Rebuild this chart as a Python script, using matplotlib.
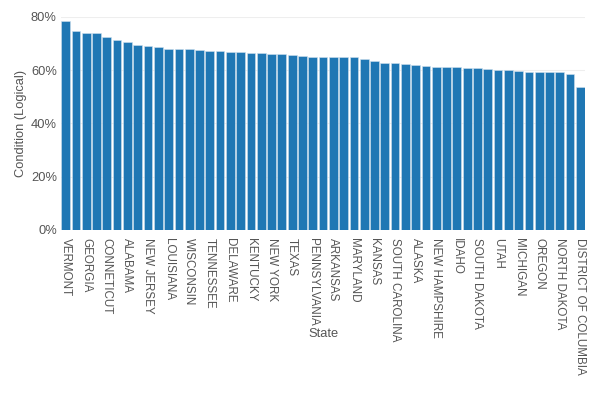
import matplotlib
matplotlib.use("Agg")
import matplotlib.pyplot as plt
from matplotlib.ticker import FuncFormatter

plt.rcParams['font.family'] = ['Liberation Sans', 'DejaVu Sans']

states = [
    "VERMONT", "ARIZONA", "GEORGIA", "CALIFORNIA", "CONNETICUT", "COLORADO",
    "ALABAMA", "FLORIDA", "NEW JERSEY", "HAWAII", "LOUISIANA", "ILLINOIS",
    "WISCONSIN", "INDIANA", "TENNESSEE", "IOWA", "DELAWARE", "MAINE",
    "KENTUCKY", "MASSACHUSETTS", "NEW YORK", "MINNESOTA", "TEXAS", "MISSISSIPPI",
    "PENNSYLVANIA", "MISSOURI", "ARKANSAS", "MONTANA", "MARYLAND", "NEBRASKA",
    "KANSAS", "NEVADA", "SOUTH CAROLINA", "NEW MEXICO", "ALASKA", "NORTH CAROLINA",
    "NEW HAMPSHIRE", "OHIO", "IDAHO", "OKLAHOMA", "SOUTH DAKOTA", "RHODE ISLAND",
    "UTAH", "VIRGINIA", "MICHIGAN", "WASHINGTON", "OREGON", "WEST VIRGINIA",
    "NORTH DAKOTA", "WYOMING", "DISTRICT OF COLUMBIA",
]
condition = [
    78.4, 74.5, 74.1, 73.9, 72.6, 71.4, 70.5, 69.6, 69.0, 68.5,
    68.0, 67.9, 67.9, 67.5, 67.1, 67.1, 66.9, 66.9, 66.6, 66.3,
    65.9, 65.9, 65.6, 65.4, 65.1, 65.1, 65.0, 65.0, 65.0, 64.1,
    63.6, 62.75, 62.5, 62.4, 61.75, 61.5, 61.25, 61.1, 61.1, 60.75,
    60.75, 60.5, 60.1, 60.1, 59.5, 59.4, 59.4, 59.4, 59.25, 58.6,
    53.6,
]
yticks = [0, 20, 40, 60, 80]

fig = plt.figure(figsize=(6, 4), dpi=100)
ax = fig.add_axes([0.1017, 0.425, 0.8733, 0.533])

x = list(range(len(states)))
ax.bar(x, condition, width=0.85, color="#1f77b4", edgecolor="#cfe0ee", linewidth=0.4, zorder=3)

ax.set_xlim(-0.45, len(states) - 0.55)
ax.set_ylim(0, 80)
ax.set_yticks(yticks)
ax.yaxis.set_major_formatter(FuncFormatter(lambda v, p: f"{v:.0f}%"))
ax.grid(axis="y", color="#eeeeee", linewidth=0.8, zorder=0)
for s in ax.spines.values():
    s.set_visible(False)

ax.set_xticks(x[::2])
ax.set_xticklabels(states[::2], rotation=270, fontsize=8.4, color="#555555")
ax.tick_params(axis="x", length=0, pad=6)
ax.tick_params(axis="y", length=0, pad=3, labelsize=9.3, labelcolor="#555555")

ax.set_xlabel("State", fontsize=9.3, color="#555555")
ax.xaxis.set_label_coords(0.5, -0.462)
ax.set_ylabel("Condition (Logical)", fontsize=9.3, color="#555555")
ax.yaxis.set_label_coords(-0.064, 0.5)

fig.savefig("out.png", dpi=100)
